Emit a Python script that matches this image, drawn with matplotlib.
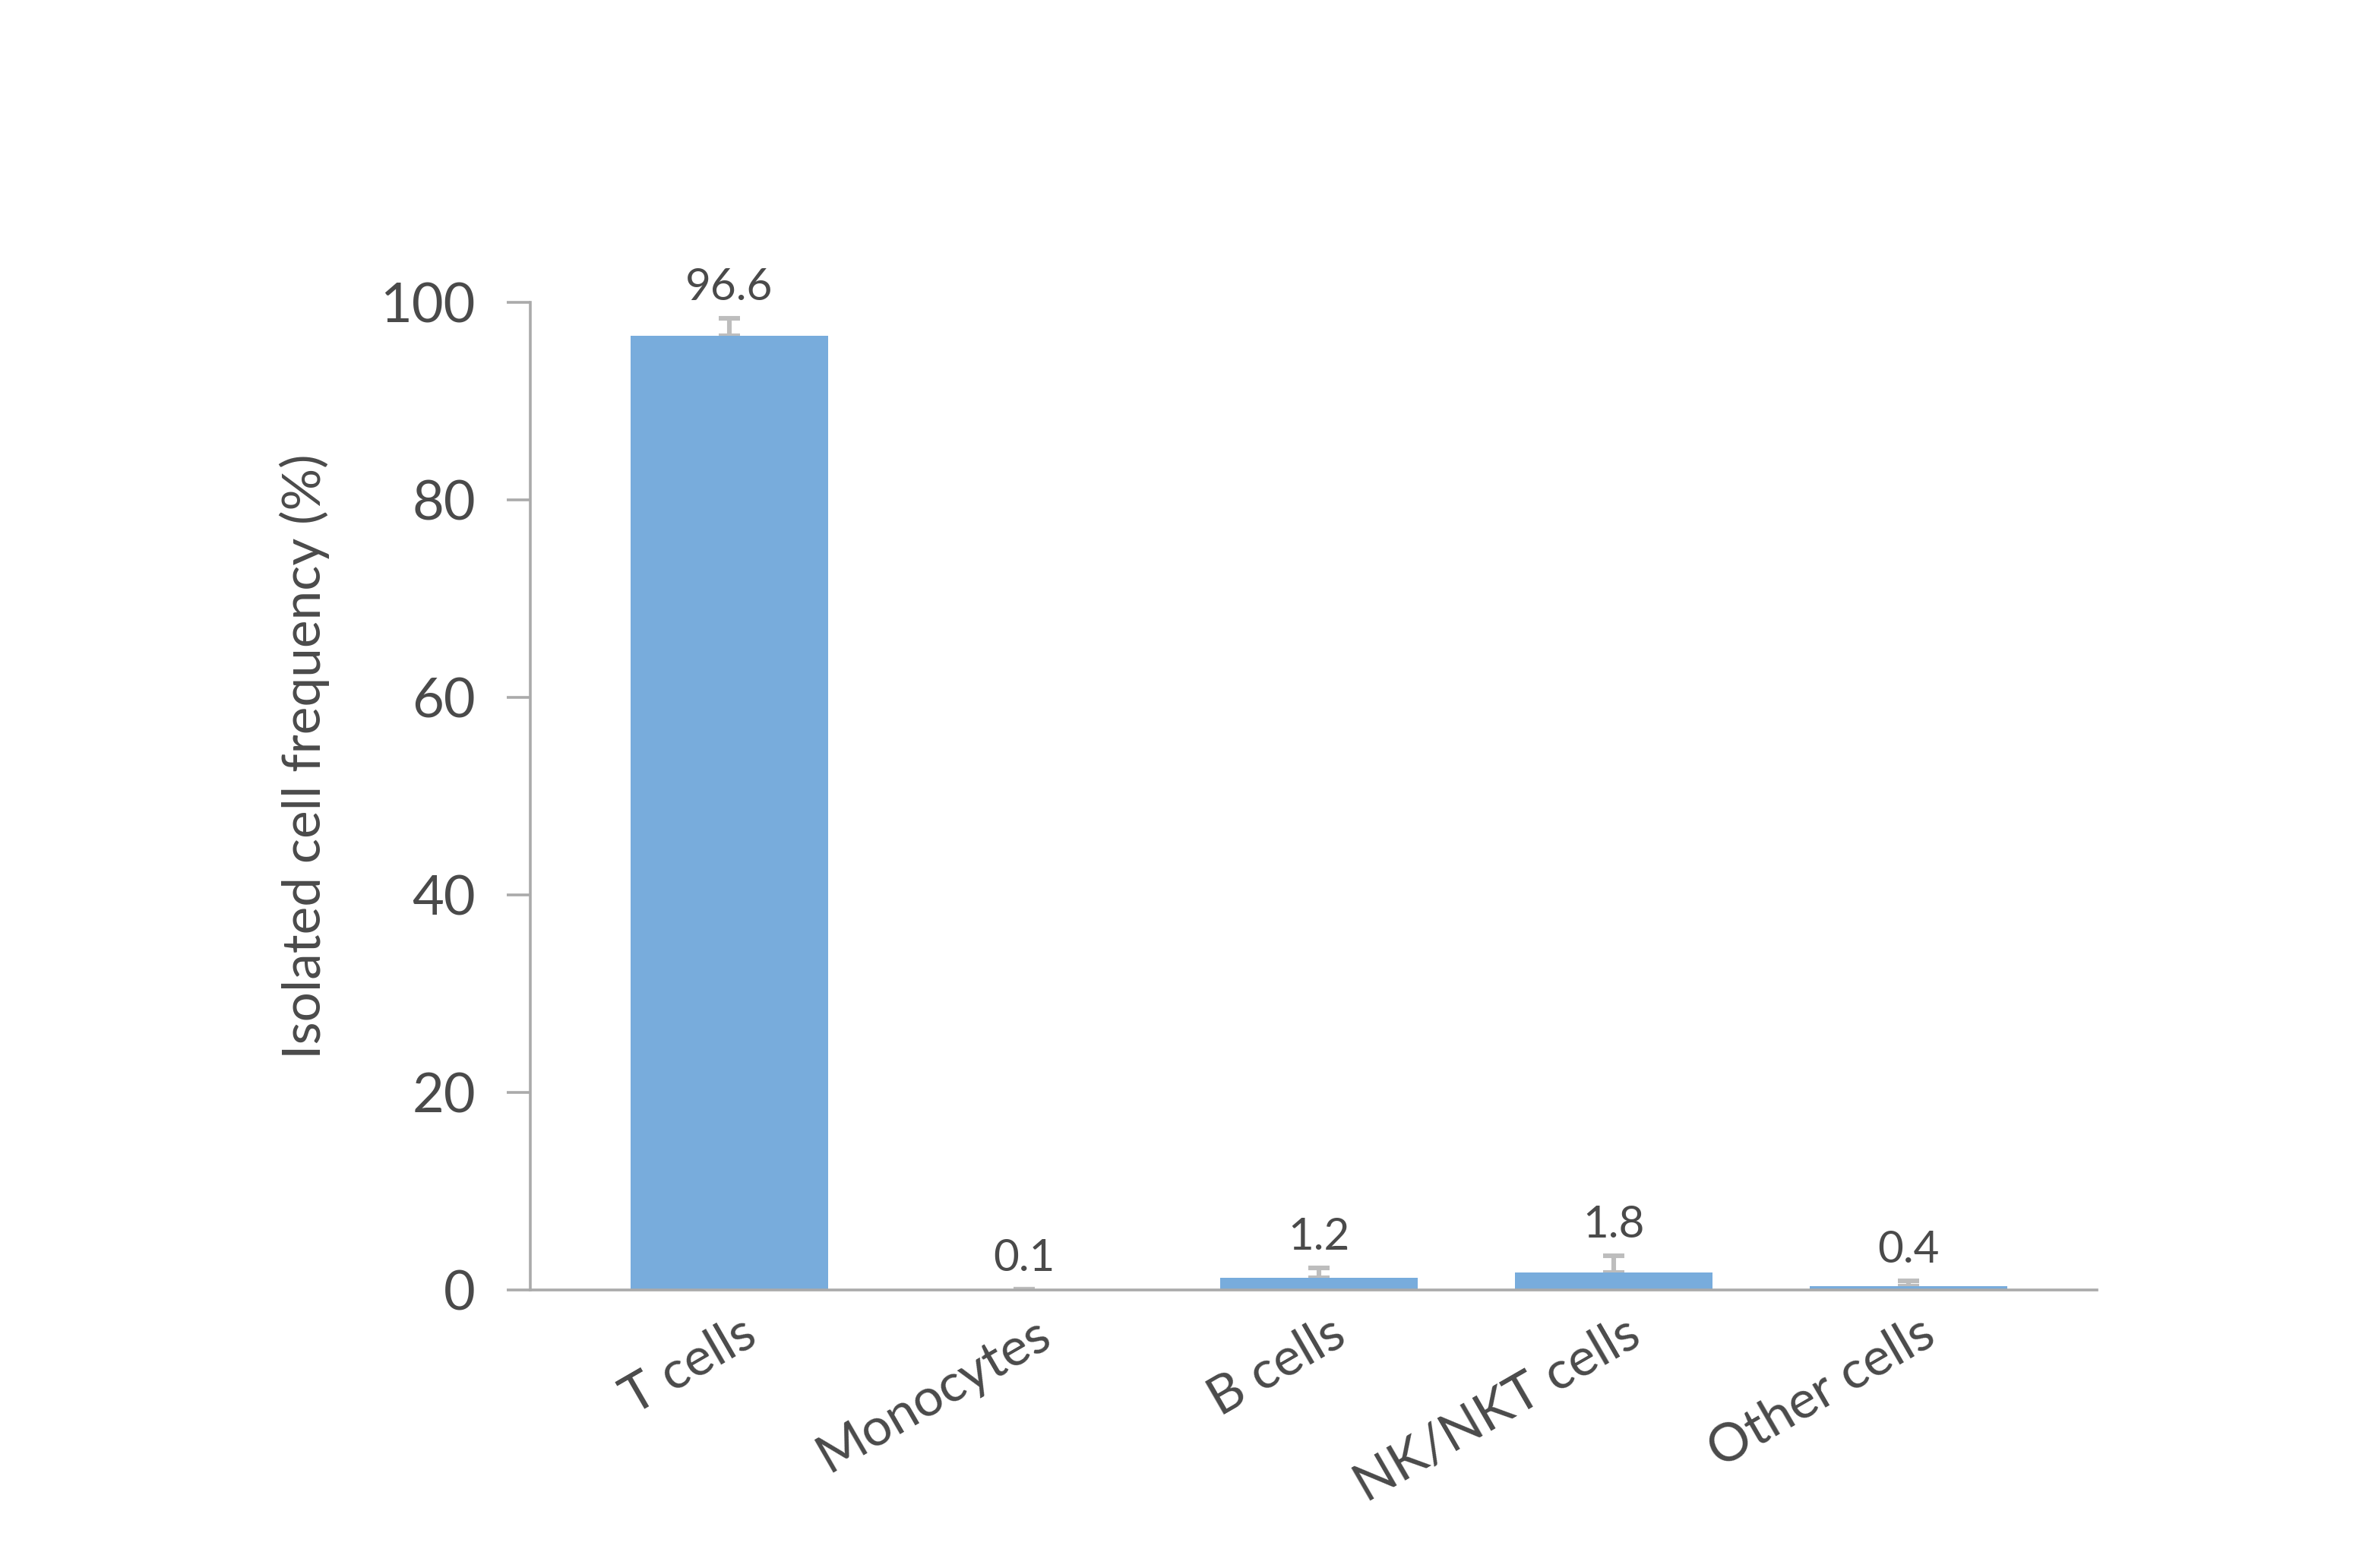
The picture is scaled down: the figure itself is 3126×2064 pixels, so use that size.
import matplotlib.pyplot as plt
import matplotlib.transforms as mtransforms

# values
cell_types = ['T cells', 'Monocytes', 'B cells', 'NK/NKT cells', 'Other cells']
frequency = [96.6, 0.1, 1.2, 1.8, 0.4]
upper_err = [1.8, 0.0, 1.05, 1.7, 0.5]
value_labels = ['96.6', '0.1', '1.2', '1.8', '0.4']
y_ticks = [0, 20, 40, 60, 80, 100]

text_color = '#4a4a4a'
bar_color = '#78acdc'
err_color = '#bdbdbd'
axis_color = '#aaaaaa'

plt.rcParams['font.family'] = ['Lato', 'DejaVu Sans']
plt.rcParams['font.weight'] = 'normal'

fig = plt.figure(figsize=(15.63, 10.32), dpi=200)
ax = fig.add_axes([0.2233, 0.1773, 0.6597, 0.6299])

x = list(range(len(cell_types)))
lower = [0] * len(frequency)
ax.bar(x, frequency, width=0.67, color=bar_color, zorder=2)
ax.errorbar(x, frequency, yerr=[lower, upper_err], fmt='none',
            ecolor=err_color, elinewidth=2.2, capsize=5, capthick=2.2, zorder=1)

for xi, val, err, lab in zip(x, frequency, upper_err, value_labels):
    ax.annotate(lab, (xi, val + err), xytext=(0, 5), textcoords='offset points',
                ha='center', va='bottom', fontsize=21, color=text_color)

ax.set_xlim(-0.675, 4.64)
ax.set_ylim(0, 100)
ax.set_yticks(y_ticks)
ax.set_yticklabels([str(t) for t in y_ticks], fontsize=26, color=text_color)
ax.tick_params(axis='y', length=11, width=1.3, color=axis_color, pad=15)

ax.set_xticks(x)
ax.set_xticklabels(cell_types, fontsize=25, color=text_color, rotation=30,
                   ha='right', va='top', rotation_mode='anchor')
ax.tick_params(axis='x', length=0, pad=9)
shift = mtransforms.ScaledTranslation(5 / 72, 0, fig.dpi_scale_trans)
for lbl in ax.get_xticklabels():
    lbl.set_transform(lbl.get_transform() + shift)

ax.set_ylabel('Isolated cell frequency (%)', fontsize=25, color=text_color)
ax.yaxis.set_label_coords(-0.128, 0.54)

for side in ['top', 'right']:
    ax.spines[side].set_visible(False)
for side in ['left', 'bottom']:
    ax.spines[side].set_color(axis_color)
    ax.spines[side].set_linewidth(1.3)

fig.savefig('out.png', dpi=200, facecolor='white')
